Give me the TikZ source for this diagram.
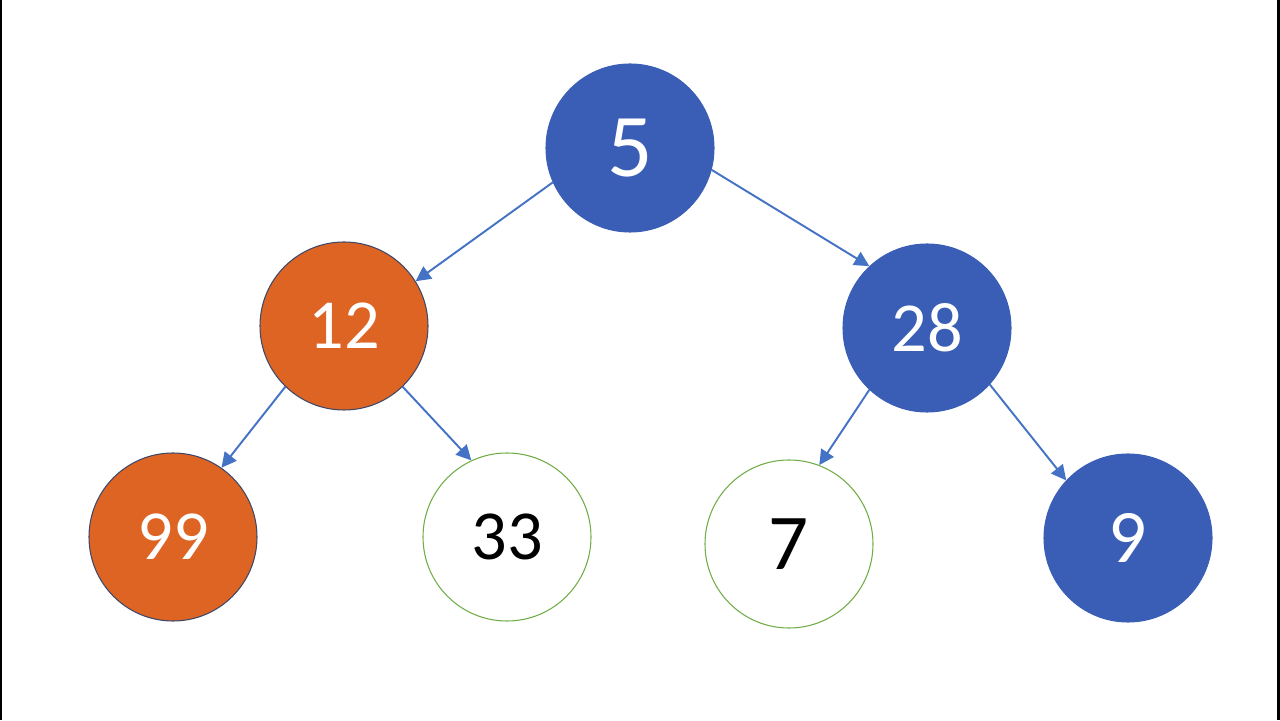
\documentclass[tikz,border=0pt]{standalone}
\usepackage{fontspec}
\setmainfont{Carlito}
\usepackage{tikz}
\usetikzlibrary{arrows.meta}

\definecolor{heapblue}{RGB}{58,94,181}
\definecolor{heaporange}{RGB}{222,100,36}
\definecolor{heapedge}{RGB}{68,114,196}
\definecolor{heapgreen}{RGB}{112,173,71}
\definecolor{heaprim}{RGB}{62,72,104}

\begin{document}
\begin{tikzpicture}[
		keynode/.style={circle, minimum size=3.36cm, inner sep=0pt, line width=0.6pt, font=\fontsize{40}{40}\selectfont},
		bluekey/.style={keynode, fill=heapblue, draw=heapblue, text=white},
		orangekey/.style={keynode, fill=heaporange, draw=heaprim, text=white},
		freekey/.style={keynode, fill=white, draw=heapgreen, text=black},
		link/.style={-{Triangle[length=8.5pt,width=8.5pt]}, line width=1.1pt, heapedge}
	]
		\useasboundingbox (0,0) rectangle (25.6,14.4);
		\fill[black] (0,0) rectangle (0.04,14.4);
		\fill[black] (25.54,0) rectangle (25.6,14.4);
		\node[bluekey] (n5) at (12.60,11.44) {\fontsize{51}{51}\selectfont 5};
		\node[orangekey] (n12) at (6.88,7.88) {12};
		\node[bluekey] (n28) at (18.54,7.84) {28};
		\node[orangekey] (n99) at (3.46,3.66) {99};
		\node[freekey] (n33) at (10.14,3.66) {33};
		\node[freekey] (n7) at (15.78,3.52) {\fontsize{45}{45}\selectfont 7};
		\node[bluekey] (n9) at (22.56,3.64) {\fontsize{43}{43}\selectfont 9};
		\draw[link] (n5.204) -- (n12.32);
		\draw[link] (n5.345) -- (n28.133);
		\draw[link] (n12.226) -- (n99.55);
		\draw[link] (n12.314) -- (n33.115);
		\draw[link] (n28.227) -- (n7.69);
		\draw[link] (n28.318) -- (n9.137);
		\end{tikzpicture}
\end{document}
